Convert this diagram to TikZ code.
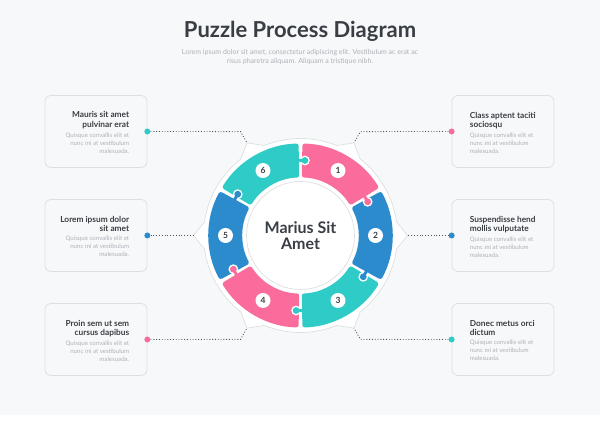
\documentclass[tikz,border=0pt]{standalone}
\usepackage{fontspec}
\setmainfont{Lato}
\usepackage{tikz}
\usetikzlibrary{calc}
\definecolor{nennhat}{HTML}{F7F8F9}
\definecolor{manhhong}{HTML}{F96C9C}
\definecolor{manhlam}{HTML}{2B8BCD}
\definecolor{manhngoc}{HTML}{2FCBC7}
\definecolor{chudam}{HTML}{393E44}
\definecolor{chunhat}{HTML}{ADB2B8}
\definecolor{vienxam}{HTML}{DCDFE2}
\definecolor{chamxam}{HTML}{4F545A}
\begin{document}
\begin{tikzpicture}[x=1pt,y=1pt,
		hop/.style={draw=vienxam,line width=0.7pt,fill=nennhat,rounded corners=6pt,minimum width=102pt,minimum height=72pt,inner sep=0pt},
		tieude/.style={font=\bfseries\fontsize{8.3}{9.8}\selectfont,text=chudam,inner sep=0pt},
		mota/.style={font=\fontsize{6.1}{8}\selectfont,text=chunhat,inner sep=0pt},
		cham/.style={circle,inner sep=0pt,minimum size=6pt},
		duongcham/.style={chamxam,line width=0.9pt,dash pattern=on 0.9pt off 1.9pt},
		so/.style={circle,fill=white,minimum size=15pt,inner sep=0pt,font=\bfseries\fontsize{8.5}{10}\selectfont,text=chudam}]
			\useasboundingbox (0,0) rectangle (600,436);
			\fill[nennhat] (0,21) rectangle (600,436);
			\fill[white] (0,0) rectangle (600,21);
			\node[font=\bfseries\fontsize{22}{24}\selectfont,text=chudam] (tieudechinh) at (300,405) {Puzzle Process Diagram};
			\node[font=\fontsize{7}{9}\selectfont,text=chunhat,align=center] (phude) at (300,378.5) {Lorem ipsum dolor sit amet, consectetur adipiscing elit. Vestibulum ac erat ac\\risus pharetra aliquam. Aliquam a tristique nibh.};
			\foreach \ten/\y/\tda/\tdb/\mau in {L1/304.5/Mauris sit amet/pulvinar erat/manhngoc,L2/200.5/Lorem ipsum dolor/sit amet/manhlam,L3/96.5/Proin sem ut sem/cursus dapibus/manhhong}
			{
				\node[hop] (\ten) at (96,\y) {};
				\node[tieude,anchor=north east,align=right] (t\ten) at ($(\ten.north east)+(-18,-16.5)$) {\tda\\\tdb};
				\node[mota,anchor=north east,align=right] at ($(t\ten.south east)+(0,-3.5)$) {Quisque convallis elit et\\nunc mi at vestibulum\\malesuada.};
				\node[cham,fill=\mau] (d\ten) at (\ten.east) {};
			}
			\foreach \ten/\y/\tda/\tdb/\mau in {R1/304.5/Class aptent taciti/sociosqu/manhhong,R2/200.5/Suspendisse hend/mollis vulputate/manhlam,R3/96.5/Donec metus orci/dictum/manhngoc}
			{
				\node[hop] (\ten) at (503,\y) {};
				\node[tieude,anchor=north west,align=left] (t\ten) at ($(\ten.north west)+(18,-16.5)$) {\tda\\\tdb};
				\node[mota,anchor=north west,align=left] at ($(t\ten.south west)+(0,-3.5)$) {Quisque convallis elit et\\nunc mi at vestibulum\\malesuada.};
				\node[cham,fill=\mau] (d\ten) at (\ten.west) {};
			}
			\begin{scope}[shift={(300.5,200.5)}]
				\draw[vienxam,line width=0.7pt,fill=white] (-8:97) \foreach \g in {0,60,...,300}{ -- (\g:107) -- ({\g+8}:97) arc[start angle=\g+8,end angle=\g+52,radius=97]} -- cycle;
				\foreach \g/\mau in {60/manhhong,0/manhlam,-60/manhngoc,-120/manhhong,180/manhlam,120/manhngoc}
					\fill[\mau,rounded corners=2.5pt] ({\g+28.8}:58) arc[start angle=\g+28.8,end angle=\g-28.8,radius=58] -- ({\g-28.8}:92) arc[start angle=\g-28.8,end angle=\g+28.8,radius=92] -- cycle;
				\foreach \g/\mau in {60/manhhong,0/manhlam,-60/manhngoc,-120/manhhong,180/manhlam,120/manhngoc}
				{
					\fill[white] ($({\g-30}:75)+({\g-120}:4.4)$) circle (4.9);
					\draw[\mau,line width=3pt] ($({\g-30}:75)+({\g+60}:2.5)$) -- ($({\g-30}:75)+({\g-120}:4.4)$);
					\fill[\mau] ($({\g-30}:75)+({\g-120}:4.4)$) circle (3.4);
				}
				\draw[vienxam,line width=0.7pt,fill=white] (0,0) circle (54);
				\foreach \g/\so in {60/1,0/2,-60/3,-120/4,180/5,120/6}
					\node[so] (s\so) at (\g:75) {\so};
				\node[font=\bfseries\fontsize{16}{16.5}\selectfont,text=chudam,align=center] (tam) at (0,0) {Marius Sit\\Amet};
				\foreach \g in {0,60,...,300}
				{
					\coordinate (dinh\g) at (\g:107);
					\coordinate (gap\g) at (\g:120);
				}
			\end{scope}
			\draw[duongcham] (dL1) -- (gap120) -- (dinh120);
			\draw[duongcham] (dL2) -- (dinh180);
			\draw[duongcham] (dL3) -- (gap240) -- (dinh240);
			\draw[duongcham] (dR1) -- (gap60) -- (dinh60);
			\draw[duongcham] (dR2) -- (dinh0);
			\draw[duongcham] (dR3) -- (gap300) -- (dinh300);
		\end{tikzpicture}
\end{document}
